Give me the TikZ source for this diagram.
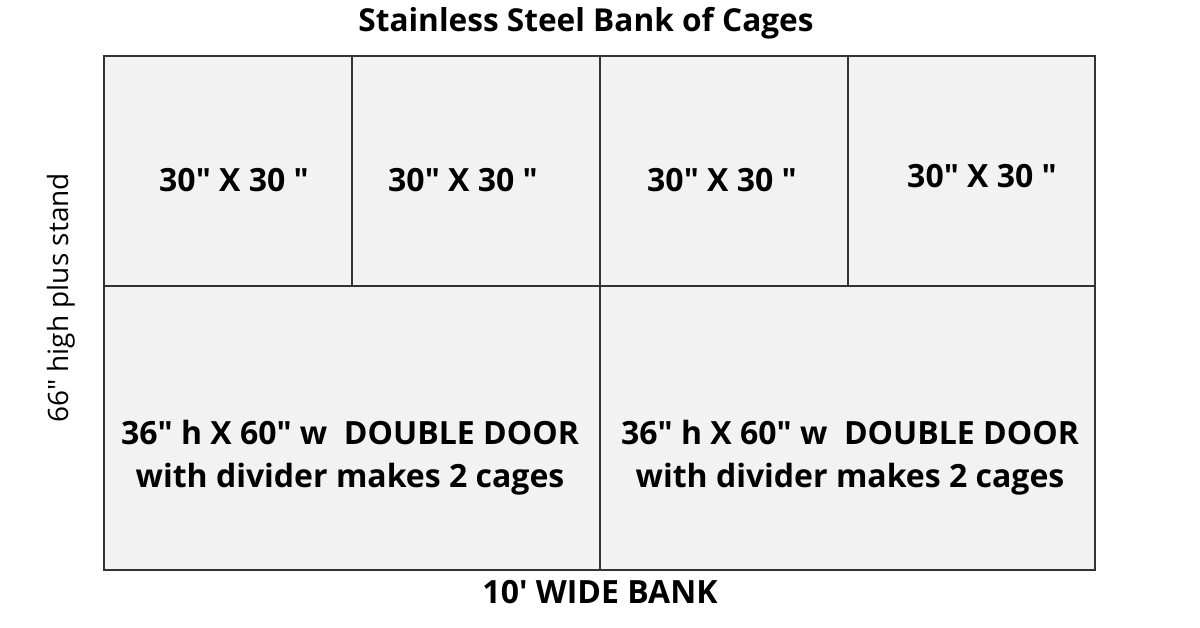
\documentclass[tikz,border=0pt]{standalone}
\usepackage{fontspec}
\setmainfont{Open Sans}[Ligatures=TeXOff]
\usepackage{tikz}

\begin{document}
\begin{tikzpicture}[x=0.75pt,y=-0.75pt]
	\tikzset{
		cage/.style={draw=black!80,line width=1.1pt,fill=black!5},
		size/.style={font=\bfseries\fontsize{24}{30}\selectfont,inner sep=0pt},
		big/.style={font=\bfseries\fontsize{24}{32}\selectfont,align=center,inner sep=0pt}}
	\useasboundingbox(0,0) rectangle (1200,628);
	\fill[white](0,0) rectangle (1200,628);
	% top row
	\draw[cage](104,56) rectangle (352,286);
	\draw[cage](352,56) rectangle (600,286);
	\draw[cage](600,56) rectangle (848,286);
	\draw[cage](848,56) rectangle (1095,286);
	% bottom row
	\draw[cage](104,286) rectangle (600,570);
	\draw[cage](600,286) rectangle (1095,570);
	\node[size](c1) at (234,180){30" X 30 "};
	\node[size](c2) at (463,180){30" X 30 "};
	\node[size](c3) at (722,180){30" X 30 "};
	\node[size](c4) at (982,176){30" X 30 "};
	\node[big](d1) at (350,458){36" h X 60" w\ \ DOUBLE DOOR\\with divider makes 2 cages};
	\node[big](d2) at (850,458){36" h X 60" w\ \ DOUBLE DOOR\\with divider makes 2 cages};
	\node[font=\bfseries\fontsize{23.7}{28}\selectfont](title) at (586,23){Stainless Steel Bank of Cages};
	\node[font=\bfseries\fontsize{24}{28}\selectfont](wide) at (600,592){10' WIDE BANK};
	\node[rotate=90,font=\fontsize{21}{25}\selectfont](high) at (61,298){66" high plus stand};
\end{tikzpicture}
\end{document}
